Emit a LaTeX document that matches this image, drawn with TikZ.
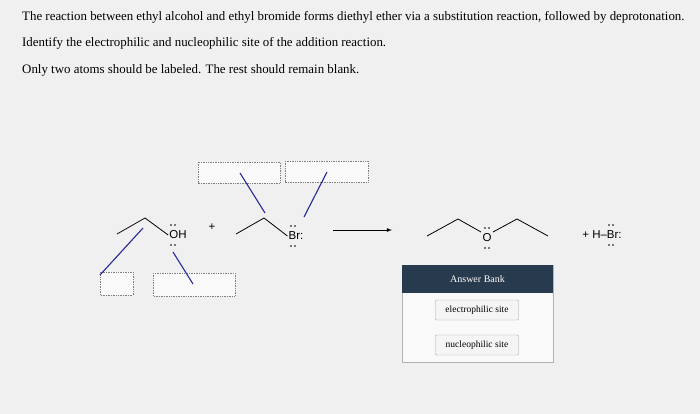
\documentclass[tikz,border=0pt]{standalone}
\usepackage{fontspec}
\setmainfont{Liberation Serif}
\newfontfamily\molfont{Liberation Sans}
\definecolor{bankhead}{RGB}{40,58,78}
\definecolor{sitelink}{RGB}{40,40,150}
\begin{document}
\begin{tikzpicture}[x=1pt,y=-1pt,
  bond/.style={line width=0.8pt,black},
  blue/.style={line width=1.1pt,color=sitelink},
  dropbox/.style={draw=gray,densely dotted,line width=0.7pt,fill=white!95!gray},
  atom/.style={font=\molfont\fontsize{11.5}{13}\selectfont,inner sep=1pt},
  dot/.style={fill=black,radius=0.8pt},
  txt/.style={anchor=west,font=\fontsize{12.9}{14}\selectfont,inner sep=0},
  btn/.style={draw=gray!70,fill=gray!8,rounded corners=1pt,minimum width=83pt,minimum height=20pt,font=\fontsize{9.5}{11}\selectfont}]
\fill[gray!12] (0,0) rectangle (700,414);
\node[txt] (t1) at (22,17) {The reaction between ethyl alcohol and ethyl bromide forms diethyl ether via a substitution reaction, followed by deprotonation.};
\node[txt] (t2) at (22,43) {Identify the electrophilic and nucleophilic site of the addition reaction.};
\node[txt] (t3) at (22,70) {Only two atoms should be labeled. The rest should remain blank.};
% drop boxes
\draw[dropbox] (198,162) rectangle (280,183);
\draw[dropbox] (285,161) rectangle (368,182);
\draw[dropbox] (100,272) rectangle (133,295);
\draw[dropbox] (153,273) rectangle (235,296);
% ethanol
\coordinate (a1) at (117,234); \coordinate (a2) at (145,218);
\node[atom] (oh) at (178,235) {OH};
\fill[dot] (171,225) circle; \fill[dot] (175,225) circle;
\fill[dot] (171,245) circle; \fill[dot] (175,245) circle;
\draw[bond] (a1)--(a2)--(oh.west);
\draw[blue] (143,228)--(100,275);
\draw[blue] (173,252)--(193,284);
\node[atom] (p1) at (212,227) {+};
% ethyl bromide
\coordinate (b1) at (236,234); \coordinate (b2) at (264,218);
\node[atom] (br) at (296,236) {Br:};
\fill[dot] (291,226) circle; \fill[dot] (295,226) circle;
\fill[dot] (291,246) circle; \fill[dot] (295,246) circle;
\draw[bond] (b1)--(b2)--(br.west);
\draw[blue] (240,173)--(265,213);
\draw[blue] (327,172)--(304,217);
% arrow
\coordinate (r1) at (333,230); \coordinate (r2) at (392,230);
\draw[bond,-latex] (r1)--(r2);
% ether
\node[atom] (o) at (487,238) {O};
\fill[dot] (485,228) circle; \fill[dot] (489,228) circle;
\fill[dot] (485,248) circle; \fill[dot] (489,248) circle;
\draw[bond] (427,236)--(458,219)--(481,232);
\draw[bond] (493,232)--(517,219)--(548,236);
\node[atom] (hbr) at (602,235) {+ H\textendash Br:};
\fill[dot] (609,225) circle; \fill[dot] (613,225) circle;
\fill[dot] (609,245) circle; \fill[dot] (613,245) circle;
% answer bank
\draw[gray!60,fill=gray!5] (402,265) rectangle (553,362);
\fill[bankhead] (402,265) rectangle (553,293);
\node[font=\fontsize{10}{12}\selectfont,text=white] (ab) at (477.5,279) {Answer Bank};
\node[btn] (e) at (477,310) {electrophilic site};
\node[btn] (n) at (477,345) {nucleophilic site};
\end{tikzpicture}
\end{document}
